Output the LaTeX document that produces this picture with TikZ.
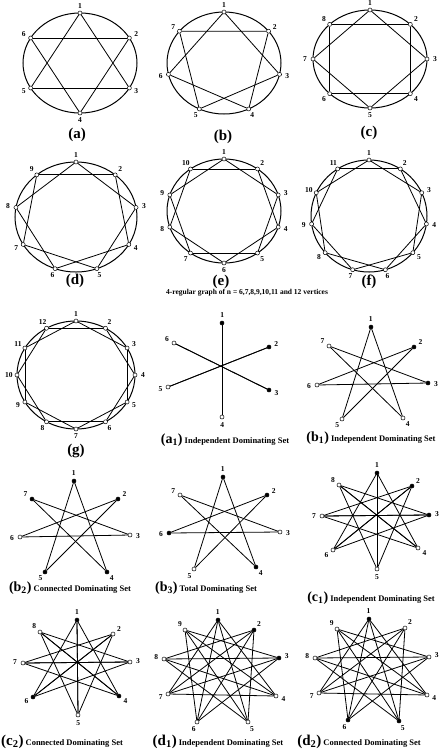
\documentclass[tikz,border=0pt]{standalone}
\usepackage{fontspec}
\setmainfont{Liberation Serif}
\usepackage{tikz}
\usetikzlibrary{calc}
\pgfdeclarelayer{bg}
\pgfsetlayers{bg,main}

\begin{document}
\begin{tikzpicture}[x=1pt, y=-1pt,
    vtx/.style={circle, draw, fill=white, inner sep=0pt, minimum size=4pt, line width=0.5pt},
    dom/.style={vtx, fill=black},
    num/.style={font=\fontsize{7.5}{8}\selectfont\bfseries, inner sep=0pt},
    link/.style={line width=0.8pt},
    rim/.style={line width=1pt},
    tag/.style={font=\fontsize{15}{17}\selectfont\bfseries, inner sep=1pt},
    capt/.style={font=\fontsize{8.5}{10}\selectfont\bfseries}]
  \useasboundingbox (0,0) rectangle (442,756);

  % 4-regular graphs, outer ellipse = the cycle edges
  \foreach \g/\n/\cx/\cy/\rx/\ry in {a/6/80/63/57/50, b/7/224/63/57/51, c/8/370/59/57/49,
      d/9/76/217/61/55, e/10/224/211/57/52, f/11/369/216/58/56, g/12/76/375/59/54} {
    \coordinate (\g-c) at (\cx,\cy);
    \foreach \k in {1,...,\n} {
      \pgfmathsetmacro\a{-90+360*(\k-1)/\n}
      \node[vtx] (\g-\k) at ({\cx+\rx*cos(\a)},{\cy+\ry*sin(\a)}) {};
      \node[num] (\g-\k-t) at ({\cx+(\rx+8)*cos(\a)},{\cy+(\ry+7)*sin(\a)}) {\k};
    }
    \begin{pgfonlayer}{bg}
      \draw[rim] (\g-c) ellipse [x radius=\rx, y radius=\ry];
      \foreach \k in {1,...,\n} {
        \pgfmathtruncatemacro\j{mod(\k+1,\n)+1}
        \draw[link] (\g-\k) -- (\g-\j);
      }
    \end{pgfonlayer}
  }
  \foreach \g/\x/\y in {a/77/135, b/223/137, c/369/133, d/75/281, e/221/282, f/369/282, g/76/451}
    \node[tag] (\g-cap) at (\x,\y) {(\g)};
  \node[font=\fontsize{7.5}{8}\selectfont\bfseries] (title) at (247,293)
    {4-regular graph of n = 6,7,8,9,10,11 and 12 vertices};

  % complements with dominating sets (filled vertices)
  \coordinate (aa-c) at (221,370);
  \foreach \k/\x/\y/\s in {1/222/323/dom, 2/269/347/dom, 3/269/390/dom, 4/222/417/vtx,
      5/168/387/vtx, 6/174/343/vtx}
    \node[\s] (aa-\k) at (\x,\y) {};
  \coordinate (ba-c) at (372,377);
  \foreach \k/\x/\y/\s in {1/371/327/dom, 2/414/347/dom, 3/428/383/dom, 4/403/418/vtx,
      5/342/419/vtx, 6/317/385/vtx, 7/329/346/vtx}
    \node[\s] (ba-\k) at (\x,\y) {};
  \coordinate (bb-c) at (75,529);
  \foreach \k/\x/\y/\s in {1/74/481/dom, 2/118/499/dom, 3/130/535/vtx, 4/107/572/dom,
      5/45/572/dom, 6/20/537/vtx, 7/32/499/dom}
    \node[\s] (bb-\k) at (\x,\y) {};
  \coordinate (bc-c) at (224,524);
  \foreach \k/\x/\y/\s in {1/223/477/dom, 2/267/495/dom, 3/280/532/vtx, 4/256/567/dom,
      5/194/569/vtx, 6/169/533/dom, 7/180/495/vtx}
    \node[\s] (bc-\k) at (\x,\y) {};
  \coordinate (ca-c) at (377,518);
  \foreach \k/\x/\y/\s in {1/377/473/dom, 2/412/486/dom, 3/429/515/dom, 4/418/548/vtx,
      5/377/569/vtx, 6/333/550/vtx, 7/322/516/vtx, 8/339/485/vtx}
    \node[\s] (ca-\k) at (\x,\y) {};
  \coordinate (cb-c) at (77,667);
  \foreach \k/\x/\y/\s in {1/77/620/dom, 2/113/634/vtx, 3/130/662/vtx, 4/119/696/dom,
      5/78/715/vtx, 6/33/697/dom, 7/23/663/vtx, 8/40/632/vtx}
    \node[\s] (cb-\k) at (\x,\y) {};
  \coordinate (da-c) at (219,672);
  \foreach \k/\x/\y/\s in {1/218/620/dom, 2/254/630/dom, 3/279/658/dom, 4/276/696/vtx,
      5/248/722/vtx, 6/197/722/vtx, 7/168/694/vtx, 8/164/659/vtx, 9/185/630/vtx}
    \node[\s] (da-\k) at (\x,\y) {};
  \coordinate (db-c) at (372,670);
  \foreach \k/\x/\y/\s in {1/369/619/dom, 2/405/628/vtx, 3/429/657/vtx, 4/427/695/vtx,
      5/399/721/dom, 6/348/720/dom, 7/319/693/vtx, 8/315/658/vtx, 9/337/629/vtx}
    \node[\s] (db-\k) at (\x,\y) {};

  % numbers and edges (steps of the complement)
  \foreach \g/\n/\st in {aa/6/3, ba/7/3, bb/7/3, bc/7/3, ca/8/{3,4}, cb/8/{3,4},
      da/9/{3,4}, db/9/{3,4}} {
    \foreach \k in {1,...,\n}
      \node[num] (\g-\k-t) at ($(\g-\k)!-8pt!(\g-c)$) {\k};
    \begin{pgfonlayer}{bg}
      \foreach \k in {1,...,\n}
        \foreach \s in \st {
          \pgfmathtruncatemacro\j{mod(\k+\s-1,\n)+1}
          \draw[link] (\g-\k) -- (\g-\j);
        }
    \end{pgfonlayer}
  }

  \node[capt] (aa-cap) at (225,440) {{\fontsize{14}{16}\selectfont (a\textsubscript{1})} Independent Dominating Set};
  \node[capt] (ba-cap) at (371,438) {{\fontsize{14}{16}\selectfont (b\textsubscript{1})} Independent Dominating Set};
  \node[capt] (bb-cap) at (70,588) {{\fontsize{14}{16}\selectfont (b\textsubscript{2})} Connected Dominating Set};
  \node[capt] (bc-cap) at (206,588) {{\fontsize{14}{16}\selectfont (b\textsubscript{3})} Total Dominating Set};
  \node[capt] (ca-cap) at (371,598) {{\fontsize{14}{16}\selectfont (c\textsubscript{1})} Independent Dominating Set};
  \node[capt] (cb-cap) at (62,742) {{\fontsize{15}{17}\selectfont (c\textsubscript{2})} Connected Dominating Set};
  \node[capt] (da-cap) at (218,742) {{\fontsize{15}{17}\selectfont (d\textsubscript{1})} Independent Dominating Set};
  \node[capt] (db-cap) at (359,742) {{\fontsize{15}{17}\selectfont (d\textsubscript{2})} Connected Dominating Set};
\end{tikzpicture}
\end{document}
